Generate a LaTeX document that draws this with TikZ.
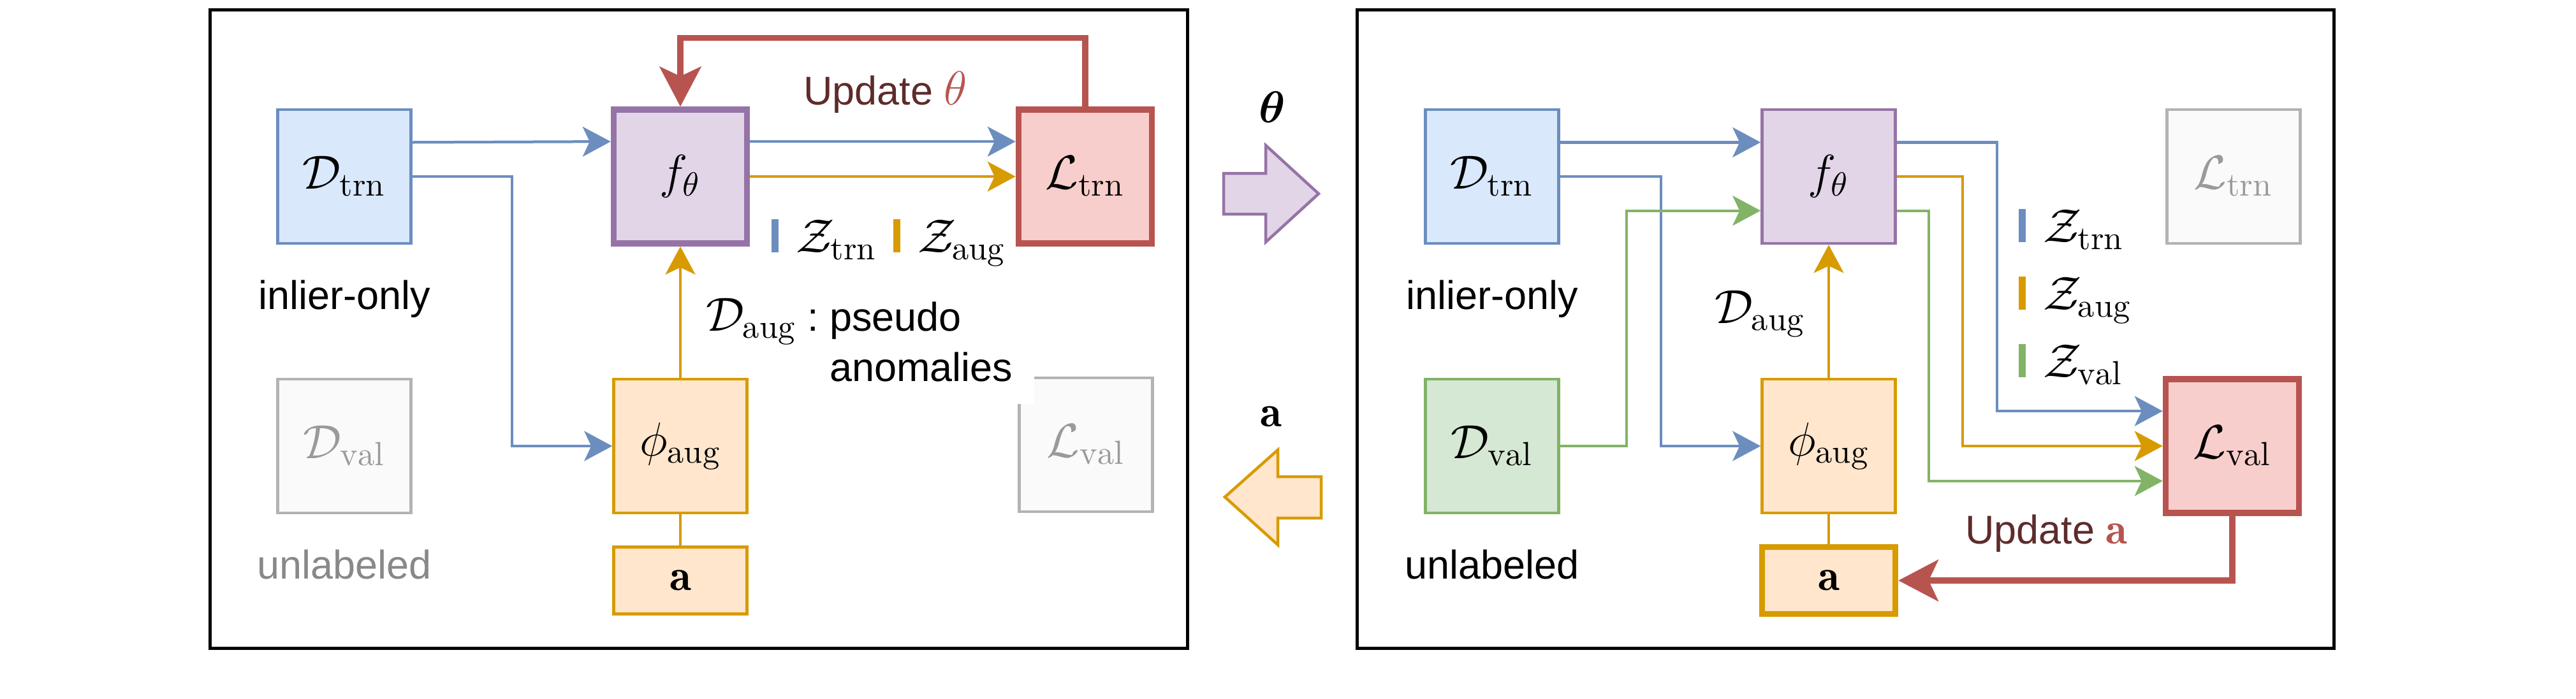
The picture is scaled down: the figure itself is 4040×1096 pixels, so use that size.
\documentclass[tikz,border=0pt]{standalone}
\usepackage{fix-cm}
\usepackage{amsmath}
\usepackage{fontspec}
\newfontfamily\arial{Liberation Sans}
\usetikzlibrary{positioning,calc,arrows.meta}

\definecolor{blueF}{HTML}{DAE8FC}\definecolor{blueD}{HTML}{6C8EBF}
\definecolor{purpF}{HTML}{E1D5E7}\definecolor{purpD}{HTML}{9673A6}
\definecolor{redF}{HTML}{F8CECC}\definecolor{redD}{HTML}{B85450}
\definecolor{orF}{HTML}{FFE6CC}\definecolor{orD}{HTML}{D79B00}
\definecolor{grF}{HTML}{D5E8D4}\definecolor{grD}{HTML}{82B366}
\definecolor{grayF}{HTML}{FAFAFA}\definecolor{grayD}{HTML}{B3B3B3}
\definecolor{grayT}{HTML}{9A9A9A}\definecolor{unlabT}{HTML}{888888}
\definecolor{updT}{HTML}{5E2B2B}

\newcommand\txtfont{\arial\fontsize{12.6}{15.8}\selectfont}
\newcommand\mathsz{\fontsize{15}{18}\selectfont}
\newcommand\boldsz{\fontsize{14}{17}\selectfont}
\newcommand\zlab[2]{{\color{#1}\rule{2.2pt}{10.4pt}}\hspace{5.5pt}$\mathcal{Z}_{\mathrm{#2}}$}

\begin{document}
\begin{tikzpicture}[x=0.2pt,y=-0.2pt,
  panel/.style={draw,line width=1pt,minimum width=306.4pt,minimum height=200.4pt,inner sep=0pt},
  box/.style={draw,line width=0.9pt,minimum width=41.8pt,minimum height=42pt,inner sep=0pt,font=\mathsz},
  strong/.style={line width=1.9pt},
  bluebox/.style={box,draw=blueD,fill=blueF},
  purplebox/.style={box,draw=purpD,fill=purpF},
  redbox/.style={box,draw=redD,fill=redF},
  orangebox/.style={box,draw=orD,fill=orF},
  greenbox/.style={box,draw=grD,fill=grF},
  graybox/.style={box,draw=grayD,fill=grayF,text=grayT},
  conn/.style={line width=0.85pt,-{Stealth[length=8.8pt,width=9.4pt,inset=2.2pt]}},
  link/.style={line width=0.85pt},
  upd/.style={line width=1.9pt,draw=redD,-{Stealth[length=12.5pt,width=13pt,inset=3pt]}},
  txt/.style={font=\txtfont,inner sep=0pt}]
  \useasboundingbox (0,0) rectangle (4040,1096);

  \node[panel] (lpanel) at (1096,516) {};
  \node[panel] (rpanel) at (2894,516) {};

  \node[bluebox] (lDtrn) at (540,277) {$\mathcal{D}_{\mathrm{trn}}$};
  \node[purplebox,strong] (lf) at (1067,277) {$f_\theta$};
  \node[redbox,strong] (lLtrn) at (1702,277) {$\mathcal{L}_{\mathrm{trn}}$};
  \node[graybox] (lDval) at (540,700) {$\mathcal{D}_{\mathrm{val}}$};
  \node[orangebox] (lphi) at (1067,700) {$\phi_{\mathrm{aug}}$};
  \node[graybox] (lLval) at (1703,698) {$\mathcal{L}_{\mathrm{val}}$};
  \node[orangebox,minimum height=21pt,font=\boldsz] (la) at (1067,911) {$\mathbf{a}$};

  \node[bluebox] (rDtrn) at (2340,277) {$\mathcal{D}_{\mathrm{trn}}$};
  \node[purplebox] (rf) at (2868,277) {$f_\theta$};
  \node[graybox] (rLtrn) at (3503,277) {$\mathcal{L}_{\mathrm{trn}}$};
  \node[greenbox] (rDval) at (2340,700) {$\mathcal{D}_{\mathrm{val}}$};
  \node[orangebox] (rphi) at (2868,700) {$\phi_{\mathrm{aug}}$};
  \node[redbox,strong] (rLval) at (3501,700) {$\mathcal{L}_{\mathrm{val}}$};
  \node[orangebox,strong,minimum height=21pt,font=\boldsz] (ra) at (2868,911) {$\mathbf{a}$};

  \draw[conn,blueD] ($(lDtrn.north east)!0.25!(lDtrn.south east)$) -- ($(lf.north west)!0.25!(lf.south west)$);
  \draw[conn,blueD] (lDtrn.east) -- ++(156,0) |- (lphi.west);
  \draw[conn,blueD] ($(lf.north east)!0.25!(lf.south east)$) -- ($(lLtrn.north west)!0.25!(lLtrn.south west)$);
  \draw[conn,orD] (lf.east) -- (lLtrn.west);
  \draw[conn,orD] (lphi.north) -- (lf.south);
  \draw[link,orD] (la.north) -- (lphi.south);
  \draw[upd] (lLtrn.north) -- ++(0,-108) -| (lf.north);

  \draw[conn,blueD] ($(rDtrn.north east)!0.25!(rDtrn.south east)$) -- ($(rf.north west)!0.25!(rf.south west)$);
  \draw[conn,blueD] (rDtrn.east) -- ++(158,0) |- (rphi.west);
  \draw[conn,grD] (rDval.east) -- ++(104,0) |- ($(rf.north west)!0.75!(rf.south west)$);
  \draw[conn,blueD] ($(rf.north east)!0.25!(rf.south east)$) -- ++(157,0) |- ($(rLval.north west)!0.25!(rLval.south west)$);
  \draw[conn,orD] (rf.east) -- ++(103,0) |- (rLval.west);
  \draw[conn,grD] ($(rf.north east)!0.75!(rf.south east)$) -- ++(50,0) |- ($(rLval.north west)!0.75!(rLval.south west)$);
  \draw[conn,orD] (rphi.north) -- (rf.south);
  \draw[link,orD] (ra.north) -- (rphi.south);
  \draw[upd] (rLval.south) |- (ra.east);

  \node[txt,below=11pt of lDtrn] (linl) {inlier-only};
  \node[txt,below=11pt of lDval,text=unlabT] (lunl) {unlabeled};
  \node[txt,below=11pt of rDtrn] (rinl) {inlier-only};
  \node[txt,below=11pt of rDval] (runl) {unlabeled};

  \node[txt,anchor=base west,text=updT] (lupd) at (1259,164) {Update {\mathsz$\color{redD}\theta$}};
  \node[txt,anchor=base west,font=\mathsz] (lz) at (1209,396) {\zlab{blueD}{trn}\hspace{5pt}\zlab{orD}{aug}};
  \node[txt,anchor=north west,align=left,fill=white,inner xsep=6.8pt,inner ysep=7pt] (lpseudo) at (1266,438) {pseudo\\anomalies};
  \node[txt,anchor=base west] (ldaug) at (1106,519) {{\mathsz$\mathcal{D}_{\mathrm{aug}}$} :};

  \node[txt,anchor=base west,font=\mathsz] (rdaug) at (2688,507) {$\mathcal{D}_{\mathrm{aug}}$};
  \node[txt,anchor=base west,font=\mathsz] (rztrn) at (3165,380) {\zlab{blueD}{trn}};
  \node[txt,anchor=base west,font=\mathsz] (rzaug) at (3165,486) {\zlab{orD}{aug}};
  \node[txt,anchor=base west,font=\mathsz] (rzval) at (3165,592) {\zlab{grD}{val}};
  \node[txt,anchor=base west,text=updT] (rupd) at (3081,853) {Update {\boldsz$\color{redD}\mathbf{a}$}};

  \node[txt,anchor=base,font=\boldsz] (thlab) at (1995,192) {$\boldsymbol{\theta}$};
  \node[txt,anchor=base,font=\boldsz] (alab) at (1993,669) {$\mathbf{a}$};
  \draw[purpD,fill=purpF,line width=0.9pt] (1919,272) -- (1985,272) -- (1985,228) -- (2068,304) -- (1985,380) -- (1985,336) -- (1919,336) -- cycle;
  \draw[orD,fill=orF,line width=0.9pt] (2072,748) -- (2004,748) -- (2004,706) -- (1921,780) -- (2004,855) -- (2004,813) -- (2072,813) -- cycle;
\end{tikzpicture}
\end{document}
